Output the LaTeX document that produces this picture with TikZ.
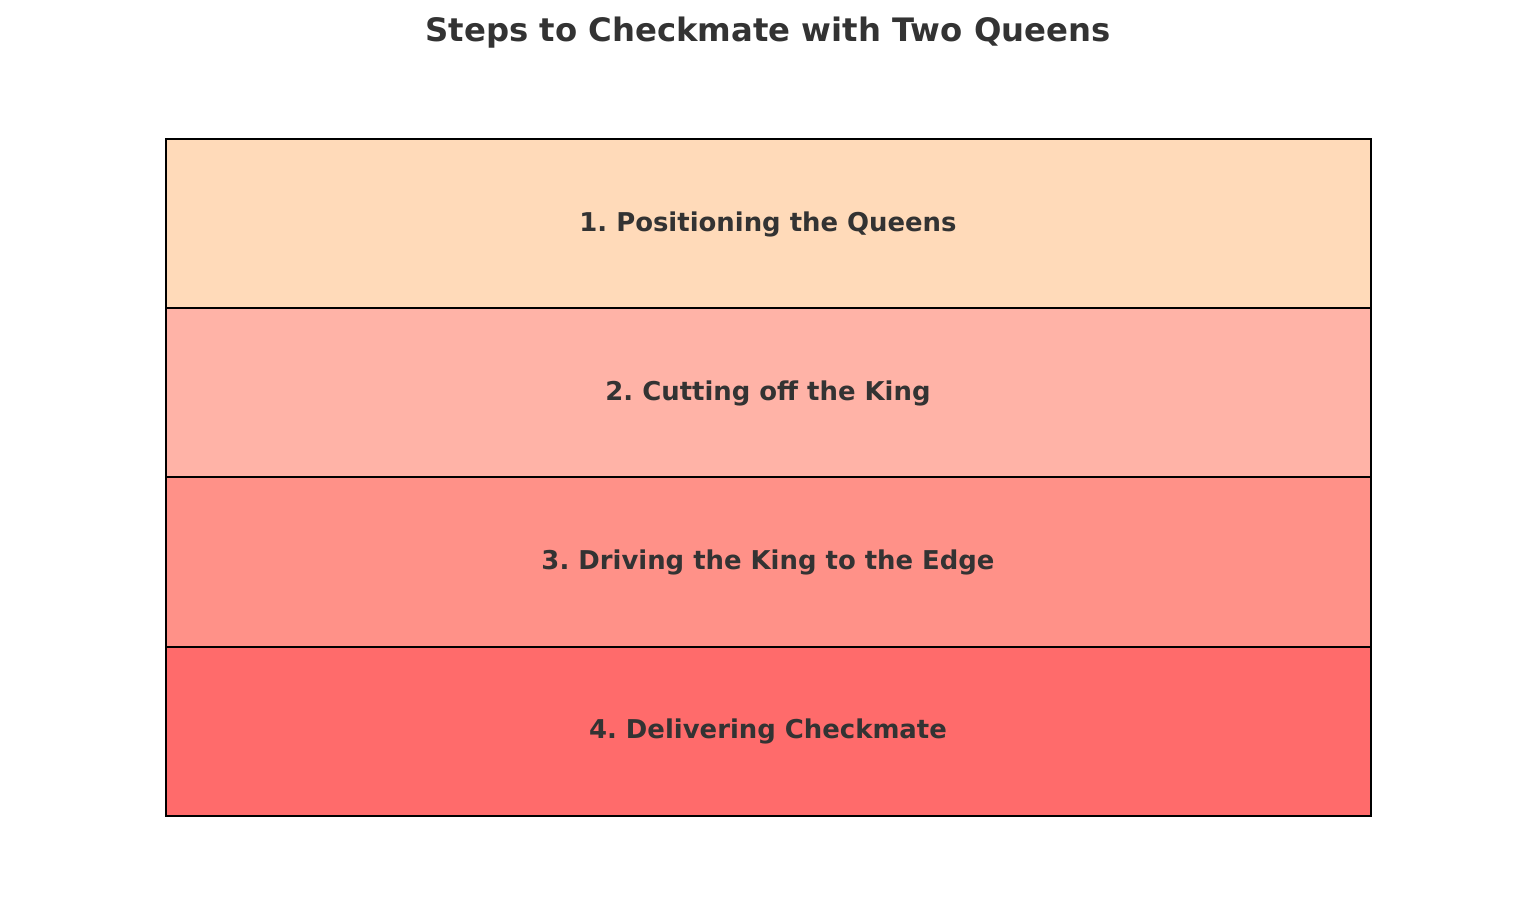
\documentclass[tikz,border=0pt]{standalone}
\usepackage{fontspec}
\setmainfont{DejaVu Sans}
\frenchspacing
\definecolor{txt}{HTML}{333333}
\definecolor{c1}{HTML}{FFDAB9}
\definecolor{c2}{HTML}{FFB3A7}
\definecolor{c3}{HTML}{FF9188}
\definecolor{c4}{HTML}{FF6B6B}
\tikzset{
  band/.style={draw=black, line width=1pt},
  lbl/.style={text=txt, font=\bfseries\fontsize{12.95}{15}\selectfont, inner sep=0pt},
  ttl/.style={text=txt, font=\bfseries\fontsize{16.15}{19}\selectfont, inner sep=0pt}
}
\begin{document}
\begin{tikzpicture}[x=0.5pt, y=-0.5pt]
\useasboundingbox (0,0) rectangle (1536,916);
\fill[white] (0,0) rectangle (1536,916);
\node[ttl] (title) at (768,33) {Steps to Checkmate with Two Queens};
\path[band, fill=c1] (166,139) rectangle (1371,308);
\path[band, fill=c2] (166,308) rectangle (1371,477);
\path[band, fill=c3] (166,477) rectangle (1371,647);
\path[band, fill=c4] (166,647) rectangle (1371,816);
\node[lbl] (s1) at (768,224) {1. Positioning the Queens};
\node[lbl] (s2) at (768,393) {2. Cutting off the King};
\node[lbl] (s3) at (768,562) {3. Driving the King to the Edge};
\node[lbl] (s4) at (768,731) {4. Delivering Checkmate};
\end{tikzpicture}
\end{document}
